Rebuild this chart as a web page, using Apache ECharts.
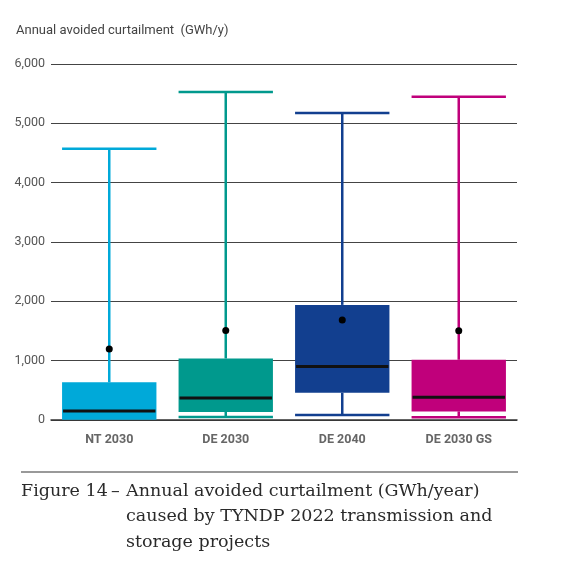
<!DOCTYPE html>
<html>
<head>
<meta charset="utf-8">
<script src="https://cdn.jsdelivr.net/npm/echarts@6/dist/echarts.min.js"></script>
<style>
  html, body { margin: 0; padding: 0; background: #fff; }
  #chart { width: 567px; height: 577px; }
</style>
</head>
<body>
<div id="chart"></div>
<script>
// box plot stats (GWh/y)
const categories = ['NT 2030', 'DE 2030', 'DE 2040', 'DE 2030 GS'];
const whiskerLow = [0, 50, 85, 45];
const q1 = [5, 135, 460, 145];
const median = [150, 370, 900, 385];
const q3 = [635, 1035, 1940, 1015];
const whiskerHigh = [4570, 5530, 5175, 5450];
const mean = [1195, 1510, 1685, 1505];
const colors = ['#00A9D9', '#00998D', '#123F8F', '#C0007B'];
const yTicks = [0, 1000, 2000, 3000, 4000, 5000, 6000];

const chart = echarts.init(document.getElementById('chart'));

const data = categories.map((c, i) => [i, whiskerLow[i], q1[i], median[i], q3[i], whiskerHigh[i], mean[i]]);

// draw a whole box (whiskers, box, median, mean dot) for one category
function renderBox(params, api) {
  const idx = api.value(0);
  const band = api.size([1, 0])[0];
  const w = band * 0.81;
  const low = api.coord([idx, api.value(1)]);
  const b1 = api.coord([idx, api.value(2)]);
  const med = api.coord([idx, api.value(3)]);
  const b3 = api.coord([idx, api.value(4)]);
  const high = api.coord([idx, api.value(5)]);
  const mn = api.coord([idx, api.value(6)]);
  const x = low[0];
  const color = colors[idx];
  const lineStyle = { stroke: color, lineWidth: 2.5 };
  const children = [
    { type: 'line', shape: { x1: x, y1: high[1], x2: x, y2: b3[1] }, style: lineStyle },
    { type: 'line', shape: { x1: x - w / 2, y1: high[1], x2: x + w / 2, y2: high[1] }, style: lineStyle },
    { type: 'line', shape: { x1: x, y1: b1[1], x2: x, y2: low[1] }, style: lineStyle },
    { type: 'line', shape: { x1: x - w / 2, y1: low[1], x2: x + w / 2, y2: low[1] }, style: lineStyle },
    { type: 'rect', shape: { x: x - w / 2, y: b3[1], width: w, height: b1[1] - b3[1] }, style: { fill: color } },
    { type: 'line', shape: { x1: x - w / 2 + 1, y1: med[1], x2: x + w / 2 - 1, y2: med[1] }, style: { stroke: '#111', lineWidth: 3 } },
    { type: 'circle', shape: { cx: mn[0], cy: mn[1], r: 3.5 }, style: { fill: '#000' } }
  ];
  if (api.value(1) <= 0) {
    children.splice(2, 2);
  }
  return { type: 'group', children: children };
}

const captionStyle = { fill: '#2a2a2a', font: '17.5px "DejaVu Serif"' };

chart.setOption({
  animation: false,
  grid: { left: 51, right: 50, top: 64, bottom: 157 },
  xAxis: {
    type: 'category',
    data: categories,
    axisLine: { lineStyle: { color: '#333', width: 1.5 } },
    axisTick: { length: 5, lineStyle: { color: '#333', width: 1.5 } },
    axisLabel: { color: '#666', fontFamily: 'Roboto', fontWeight: 'bold', fontSize: 12.5, margin: 13 }
  },
  yAxis: {
    type: 'value',
    min: 0,
    max: 6000,
    interval: 1000,
    axisLine: { show: false },
    axisTick: { show: false },
    splitLine: { lineStyle: { color: '#444', width: 1.2 } },
    axisLabel: {
      color: '#555',
      fontFamily: 'Roboto',
      fontSize: 12.5,
      margin: 6,
      formatter: v => yTicks.includes(v) ? v.toLocaleString('en-US') : ''
    }
  },
  graphic: [
    { type: 'text', left: 16, top: 24, style: { text: 'Annual avoided curtailment  (GWh/y)', fill: '#444', font: '13px Roboto' } },
    { type: 'line', shape: { x1: 21, y1: 472, x2: 518, y2: 472 }, style: { stroke: '#777', lineWidth: 1.5 } },
    { type: 'text', left: 21, top: 482, style: Object.assign({ text: 'Figure 14' }, captionStyle) },
    { type: 'text', left: 111, top: 482, style: Object.assign({ text: '\u2013' }, captionStyle) },
    { type: 'text', left: 126, top: 482, style: Object.assign({ text: 'Annual avoided curtailment (GWh/year)' }, captionStyle) },
    { type: 'text', left: 126, top: 507, style: Object.assign({ text: 'caused by TYNDP 2022 transmission and' }, captionStyle) },
    { type: 'text', left: 126, top: 533, style: Object.assign({ text: 'storage projects' }, captionStyle) }
  ],
  series: [{
    type: 'custom',
    renderItem: renderBox,
    data: data,
    encode: { x: 0, y: [1, 2, 3, 4, 5, 6] }
  }]
});
</script>
</body>
</html>
